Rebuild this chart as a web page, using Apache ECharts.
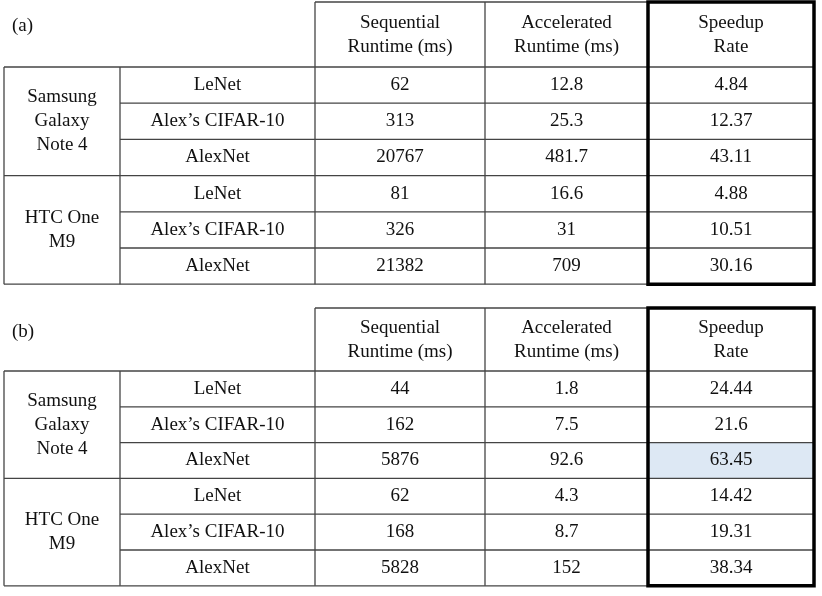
<!DOCTYPE html>
<html><head><meta charset="utf-8">
<script src="https://cdn.jsdelivr.net/npm/echarts@6/dist/echarts.min.js"></script>
<style>html,body{margin:0;padding:0;background:#fff}#c{width:822px;height:596px}</style>
</head><body><div id="c"></div>
<script>
const tableLabels = ['(a)', '(b)'];
const headers = ['Sequential\nRuntime (ms)', 'Accelerated\nRuntime (ms)', 'Speedup\nRate'];
const devices = ['Samsung\nGalaxy\nNote 4', 'HTC One\nM9'];
const models = ['LeNet', 'Alex\u2019s CIFAR-10', 'AlexNet'];
const seqA = ['62','313','20767','81','326','21382'];
const accA = ['12.8','25.3','481.7','16.6','31','709'];
const spdA = ['4.84','12.37','43.11','4.88','10.51','30.16'];
const seqB = ['44','162','5876','62','168','5828'];
const accB = ['1.8','7.5','92.6','4.3','8.7','152'];
const spdB = ['24.44','21.6','63.45','14.42','19.31','38.34'];

const colX = [4, 120, 315, 485, 648, 814];
const tables = [{top:2, head:67, rowH:36.2, seq:seqA, acc:accA, spd:spdA, hl:-1},
                {top:308, head:371, rowH:35.8, seq:seqB, acc:accB, spd:spdB, hl:2}];
const font = '19px "Liberation Serif", "DejaVu Serif", serif';
const g = [];
function line(x1,y1,x2,y2,w,c){g.push({type:'line',shape:{x1,y1,x2,y2},style:{stroke:c||'#444',lineWidth:w||1.3},z:w>2?3:1});}
function text(t,x,y,align){g.push({type:'text',x,y,style:{text:t,font,fill:'#111',align:align||'center',verticalAlign:'middle',lineHeight:24},z:4});}
tables.forEach((T,ti)=>{
  const bottom = T.head + T.rowH*6;
  // highlight
  if(T.hl>=0) g.push({type:'rect',shape:{x:colX[4],y:T.head+T.rowH*T.hl,width:colX[5]-colX[4],height:T.rowH},style:{fill:'#dde8f4'},z:0});
  // header top & vertical lines
  line(colX[2],T.top,colX[5],T.top);
  line(colX[2],T.top,colX[2],bottom);
  line(colX[3],T.top,colX[3],bottom);
  line(colX[0],T.head,colX[0],bottom);
  line(colX[1],T.head,colX[1],bottom);
  line(colX[0],T.head,colX[5],T.head);
  for(let r=1;r<=6;r++){
    const y=T.head+T.rowH*r;
    line(r===3||r===6?colX[0]:colX[1],y,colX[5],y);
  }
  // thick box
  g.push({type:'rect',shape:{x:colX[4],y:T.top,width:colX[5]-colX[4],height:bottom-T.top},style:{fill:'none',stroke:'#000',lineWidth:3.5},z:3});
  text(tableLabels[ti],colX[0]+8,T.top+24,'left');
  headers.forEach((h,i)=>text(h,(colX[2+i]+colX[3+i])/2,(T.top+T.head)/2+1));
  devices.forEach((d,i)=>text(d,(colX[0]+colX[1])/2,T.head+T.rowH*(3*i+1.5)));
  for(let r=0;r<6;r++){
    const cy=T.head+T.rowH*(r+0.5);
    text(models[r%3],(colX[1]+colX[2])/2,cy);
    text(T.seq[r],(colX[2]+colX[3])/2,cy);
    text(T.acc[r],(colX[3]+colX[4])/2,cy);
    text(T.spd[r],(colX[4]+colX[5])/2,cy);
  }
});
const chart = echarts.init(document.getElementById('c'));
chart.setOption({animation:false, graphic:{elements:g}});
</script></body></html>
